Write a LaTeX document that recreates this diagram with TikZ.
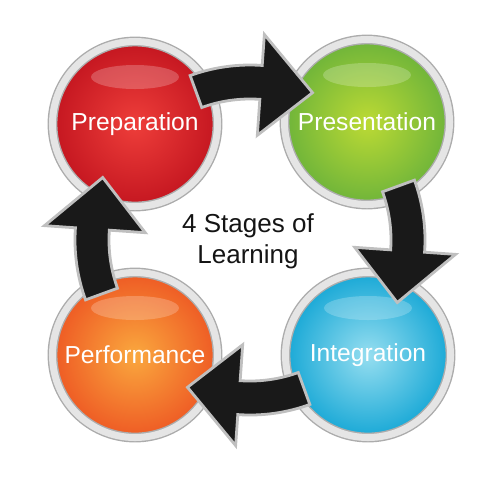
\documentclass[tikz,border=0pt]{standalone}
\usepackage{fontspec}
\setmainfont{Liberation Sans}

\definecolor{redin}{RGB}{238,62,58}
\definecolor{redout}{RGB}{196,22,32}
\definecolor{greenin}{RGB}{188,218,52}
\definecolor{greenout}{RGB}{110,180,58}
\definecolor{bluein}{RGB}{150,222,240}
\definecolor{blueout}{RGB}{24,168,214}
\definecolor{orangein}{RGB}{250,168,62}
\definecolor{orangeout}{RGB}{238,90,36}

\begin{document}
\begin{tikzpicture}[
  stage/.style={circle,minimum size=3.3cm,inner sep=0pt,draw=gray!65,double=gray!20,
    double distance=4pt,line width=0.8pt,text=white,font=\fontsize{14}{16}\selectfont},
  gloss/.style={white,opacity=0.22},
  cyclearrow/.style={fill=black!90,draw=gray!50,line width=1.6pt,line join=miter}
]
\useasboundingbox (-5,-5) rectangle (5,4.8);
\coordinate (hub) at (0,0);

% the four stages
\node[stage,inner color=redin,outer color=redout] (prep) at (-2.3,2.32) {Preparation};
\node[stage,inner color=greenin,outer color=greenout] (pres) at (2.34,2.36) {Presentation};
\node[stage,inner color=bluein,outer color=blueout] (integ) at (2.36,-2.3) {Integration};
\node[stage,inner color=orangein,outer color=orangeout] (perf) at (-2.3,-2.3) {Performance};
\foreach \n in {prep,pres,integ,perf}
  \fill[gloss] ([yshift=0.94cm]\n.center) ellipse [x radius=0.88cm,y radius=0.24cm];

% curved arrows round the hub
\foreach \r in {0,-90,-180,-270}
  \draw[cyclearrow,rotate around={\r:(hub)}] (110:2.82) arc[start angle=110,end angle=86,radius=2.82]
    -- (86:2.1) -- (67:3.2) -- (86:4.12) -- (86:3.5)
    arc[start angle=86,end angle=110,radius=3.5] -- cycle;

\node[font=\fontsize{14.8}{17.8}\selectfont,text=black!92,align=center] (title) at (-0.04,-0.03) {4 Stages of\\Learning};
\end{tikzpicture}
\end{document}
